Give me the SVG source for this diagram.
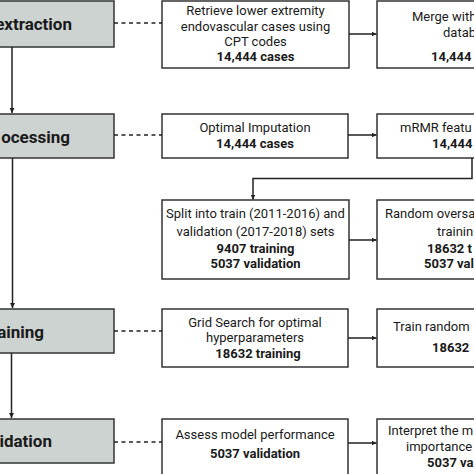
<svg xmlns="http://www.w3.org/2000/svg" width="474" height="474" viewBox="0 0 474 474">
<defs>
<marker id="ah" viewBox="0 0 10 10" refX="10" refY="5" markerWidth="5" markerHeight="5" orient="auto" markerUnits="userSpaceOnUse">
<path d="M0,0 L10,5 L0,10 z" fill="#222"/>
</marker>
<style>
.stage{fill:#cdd3d1;stroke:#333;stroke-width:1.5}
.box{fill:#fff;stroke:#333;stroke-width:1.5}
.st{font-family:Roboto,"Liberation Sans",sans-serif;font-weight:bold;font-size:17px;fill:#1a1a1a}
.t{font-family:Roboto,"Liberation Sans",sans-serif;font-size:13px;fill:#1a1a1a}
.b{font-weight:bold}
.c{text-anchor:middle}
.line{fill:none;stroke:#222;stroke-width:1.5}
.dash{fill:none;stroke:#222;stroke-width:1.5;stroke-dasharray:4 3.5}
</style>
</defs>
<rect width="474" height="474" fill="#fff"/>

<g id="stage-extraction">
<rect class="stage" x="-80" y="1" width="194" height="46"/>
<text class="st" x="72" y="30" text-anchor="end">extraction</text>
</g>
<g id="stage-processing">
<rect class="stage" x="-80" y="114" width="194" height="44"/>
<text class="st" x="70" y="143" text-anchor="end">ocessing</text>
</g>
<g id="stage-training">
<rect class="stage" x="-80" y="309" width="194" height="44"/>
<text class="st" x="44" y="338" text-anchor="end">aining</text>
</g>
<g id="stage-validation">
<rect class="stage" x="-80" y="419" width="194" height="44"/>
<text class="st" x="52" y="447" text-anchor="end">idation</text>
</g>

<g id="retrieve">
<rect class="box" x="162" y="1" width="187" height="67"/>
<text class="t c" x="255.5" y="14.5">Retrieve lower extremity</text>
<text class="t c" x="255.5" y="30.5">endovascular cases using</text>
<text class="t c" x="255.5" y="45.5">CPT codes</text>
<text class="t c b" x="255.5" y="60.5">14,444 cases</text>
</g>
<g id="merge">
<rect class="box" x="377" y="1" width="187" height="67"/>
<text class="t" x="412" y="20.5">Merge with</text>
<text class="t" x="443" y="36.5">datab</text>
<text class="t b" x="431" y="60.5">14,444</text>
</g>

<g id="imputation">
<rect class="box" x="162" y="114" width="186" height="44"/>
<text class="t c" x="255" y="131.5">Optimal Imputation</text>
<text class="t c b" x="255" y="147.5">14,444 cases</text>
</g>
<g id="mrmr">
<rect class="box" x="377" y="114" width="187" height="44"/>
<text class="t" x="400" y="131.5">mRMR featu</text>
<text class="t b" x="432" y="147.5">14,444</text>
</g>

<g id="split">
<rect class="box" x="162" y="200" width="187" height="79"/>
<text class="t c" x="255.5" y="217.5">Split into train (2011-2016) and</text>
<text class="t c" x="255.5" y="235.5">validation (2017-2018) sets</text>
<text class="t c b" x="255.5" y="252.5">9407 training</text>
<text class="t c b" x="255.5" y="267.5">5037 validation</text>
</g>
<g id="oversample">
<rect class="box" x="377" y="200" width="187" height="79"/>
<text class="t" x="385" y="217.5">Random oversa</text>
<text class="t" x="437" y="235.5">trainin</text>
<text class="t b" x="427" y="252.5">18632 t</text>
<text class="t b" x="424" y="267.5">5037 val</text>
</g>

<g id="gridsearch">
<rect class="box" x="162" y="309" width="186" height="58"/>
<text class="t c" x="255" y="326.5">Grid Search for optimal</text>
<text class="t c" x="255" y="341.5">hyperparameters</text>
<text class="t c b" x="258" y="357.5">18632 training</text>
</g>
<g id="train-rf">
<rect class="box" x="377" y="309" width="187" height="58"/>
<text class="t" x="393" y="330.5">Train random</text>
<text class="t b" x="432" y="351.5">18632</text>
</g>

<g id="assess">
<rect class="box" x="162" y="419" width="186" height="70"/>
<text class="t c" x="255" y="438.5">Assess model performance</text>
<text class="t c b" x="255" y="457.5">5037 validation</text>
</g>
<g id="interpret">
<rect class="box" x="377" y="419" width="187" height="70"/>
<text class="t" x="388" y="434.5">Interpret the m</text>
<text class="t" x="406" y="450.5">importance</text>
<text class="t b" x="427" y="466.5">5037 va</text>
</g>

<g id="connectors">
<line class="line" x1="12" y1="47" x2="12" y2="113" marker-end="url(#ah)"/>
<line class="line" x1="12.5" y1="158" x2="12.5" y2="308" marker-end="url(#ah)"/>
<line class="line" x1="11.5" y1="353" x2="11.5" y2="418" marker-end="url(#ah)"/>
<line class="dash" x1="114" y1="23" x2="162" y2="23"/>
<line class="dash" x1="114" y1="135" x2="162" y2="135"/>
<line class="dash" x1="114" y1="331" x2="162" y2="331"/>
<line class="dash" x1="114" y1="442" x2="162" y2="442"/>
<line class="line" x1="349" y1="34" x2="376.5" y2="34" marker-end="url(#ah)"/>
<line class="line" x1="348" y1="135" x2="376.5" y2="135" marker-end="url(#ah)"/>
<line class="line" x1="349" y1="240" x2="376.5" y2="240" marker-end="url(#ah)"/>
<line class="line" x1="348" y1="338" x2="376.5" y2="338" marker-end="url(#ah)"/>
<line class="line" x1="348" y1="443" x2="376.5" y2="443" marker-end="url(#ah)"/>
<polyline class="line" points="472,158 472,178.5 253,178.5 253,199.5" marker-end="url(#ah)"/>
</g>
</svg>
